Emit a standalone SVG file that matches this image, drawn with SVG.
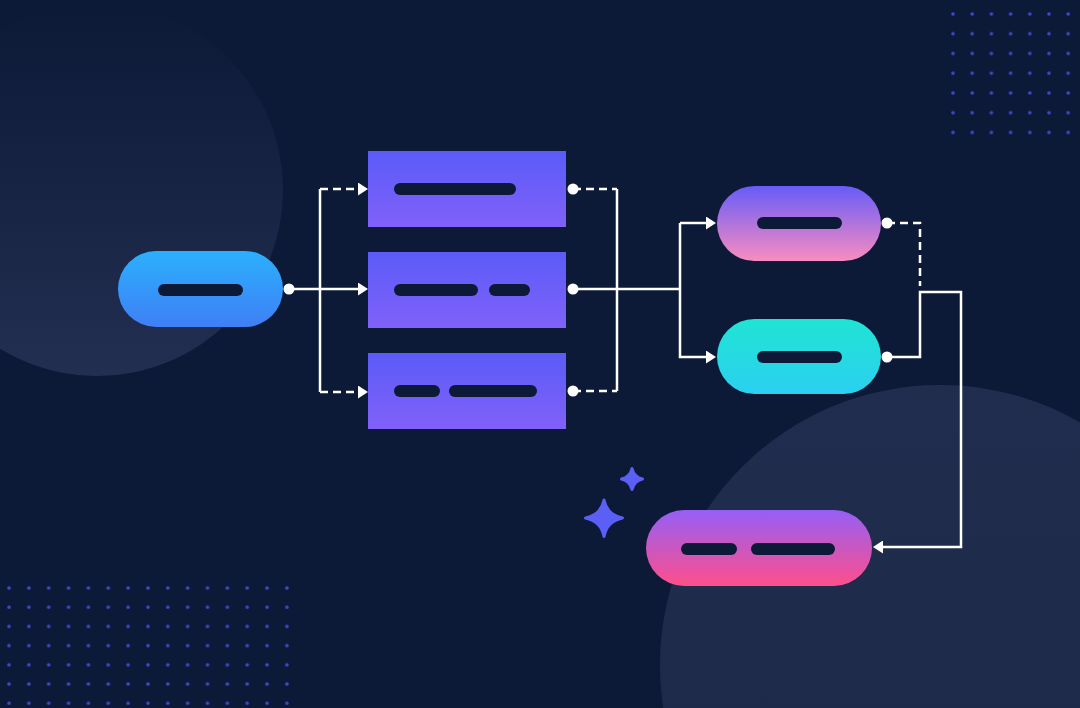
<svg xmlns="http://www.w3.org/2000/svg" width="1080" height="708" viewBox="0 0 1080 708">
  <defs>
    <linearGradient id="gCircle" x1="0" y1="0" x2="0" y2="1">
      <stop offset="0" stop-color="#0c1a37"/>
      <stop offset="0.15" stop-color="#0f1c3a"/>
      <stop offset="1" stop-color="#232f51"/>
    </linearGradient>
    <linearGradient id="gCircle2" x1="0" y1="0" x2="0" y2="1">
      <stop offset="0" stop-color="#212d4e"/>
      <stop offset="1" stop-color="#1c2846"/>
    </linearGradient>
    <linearGradient id="gBlue" x1="0" y1="0" x2="0" y2="1">
      <stop offset="0" stop-color="#2bb0fd"/>
      <stop offset="1" stop-color="#3f7ff5"/>
    </linearGradient>
    <linearGradient id="gRect" x1="0" y1="0" x2="0" y2="1">
      <stop offset="0" stop-color="#5b5bf8"/>
      <stop offset="1" stop-color="#8061f9"/>
    </linearGradient>
    <linearGradient id="gPink" x1="0" y1="0" x2="0" y2="1">
      <stop offset="0" stop-color="#665cf8"/>
      <stop offset="1" stop-color="#f98cc0"/>
    </linearGradient>
    <linearGradient id="gTeal" x1="0" y1="0" x2="0" y2="1">
      <stop offset="0" stop-color="#20e4d3"/>
      <stop offset="1" stop-color="#2bd0f0"/>
    </linearGradient>
    <linearGradient id="gMag" x1="0" y1="0" x2="0" y2="1">
      <stop offset="0" stop-color="#955ff6"/>
      <stop offset="1" stop-color="#ff4f8a"/>
    </linearGradient>
    <pattern id="dotsTR" patternUnits="userSpaceOnUse" x="943.4" y="4.1" width="19.2" height="19.75">
      <circle cx="9.6" cy="9.9" r="1.8" fill="#3d49d0"/>
    </pattern>
    <pattern id="dotsBL" patternUnits="userSpaceOnUse" x="-0.9" y="578.4" width="19.85" height="19.2">
      <circle cx="9.9" cy="9.6" r="1.8" fill="#3d49d0"/>
    </pattern>
    <marker id="arrow" viewBox="0 0 10 13" refX="2" refY="6.5" markerWidth="10" markerHeight="13" markerUnits="userSpaceOnUse" orient="auto">
      <path d="M0,0 L10,6.5 L0,13 z" fill="#ffffff"/>
    </marker>
  </defs>
  <style>
    .line{fill:none;stroke:#ffffff;stroke-width:2.5;}
    .dash{stroke-dasharray:8 5;}
    .dot{fill:#ffffff;}
    .bar{fill:#0c1a37;}
    .star{fill:#5b5ff5;stroke:#5b5ff5;stroke-width:3;stroke-linejoin:round;}
  </style>

  <rect width="1080" height="708" fill="#0c1a37"/>
  <circle cx="97" cy="190" r="186" fill="url(#gCircle)"/>
  <circle cx="940" cy="665" r="280" fill="url(#gCircle2)"/>
  <rect x="943" y="4" width="135" height="140" fill="url(#dotsTR)"/>
  <rect x="0" y="578" width="298" height="130" fill="url(#dotsBL)"/>

  <g id="sparkles">
    <path class="star" d="M604,500 Q607,515 622.5,518 Q607,521 604,536.5 Q601,521 585.5,518 Q601,515 604,500 Z"/>
    <path class="star" d="M632,468.5 Q634,477 642.5,479 Q634,481 632,489.5 Q630,481 621.5,479 Q630,477 632,468.5 Z"/>
  </g>

  <g id="connectors">
    <path class="line" d="M289,289 L360,289" marker-end="url(#arrow)"/>
    <path class="line" d="M320,189 L320,392"/>
    <path class="line dash" d="M320,189 L360,189" marker-end="url(#arrow)"/>
    <path class="line dash" d="M320,392 L360,392" marker-end="url(#arrow)"/>
    <path class="line dash" d="M573,189 L617,189"/>
    <path class="line dash" d="M573,391 L617,391"/>
    <path class="line" d="M617,189 L617,391"/>
    <path class="line" d="M573,289 L680,289"/>
    <path class="line" d="M680,223 L680,357 L708,357" marker-end="url(#arrow)"/>
    <path class="line" d="M680,223 L708,223" marker-end="url(#arrow)"/>
    <path class="line dash" d="M887,223 L920,223 L920,286"/>
    <path class="line" d="M887,357 L920,357 L920,292 L961,292 L961,547 L881,547" marker-end="url(#arrow)"/>
    <circle class="dot" cx="289" cy="289" r="5.5"/>
    <circle class="dot" cx="573" cy="189" r="5.5"/>
    <circle class="dot" cx="573" cy="289" r="5.5"/>
    <circle class="dot" cx="573" cy="391" r="5.5"/>
    <circle class="dot" cx="887" cy="223" r="5.5"/>
    <circle class="dot" cx="887" cy="357" r="5.5"/>
  </g>

  <g id="start">
    <rect x="118" y="251" width="165" height="76" rx="38" fill="url(#gBlue)"/>
    <rect class="bar" x="158" y="284" width="85" height="12" rx="6"/>
  </g>

  <g id="task1">
    <rect x="368" y="151" width="198" height="76" fill="url(#gRect)"/>
    <rect class="bar" x="394" y="183" width="122" height="12" rx="6"/>
  </g>
  <g id="task2">
    <rect x="368" y="252" width="198" height="76" fill="url(#gRect)"/>
    <rect class="bar" x="394" y="284" width="84" height="12" rx="6"/>
    <rect class="bar" x="489" y="284" width="41" height="12" rx="6"/>
  </g>
  <g id="task3">
    <rect x="368" y="353" width="198" height="76" fill="url(#gRect)"/>
    <rect class="bar" x="394" y="385" width="46" height="12" rx="6"/>
    <rect class="bar" x="449" y="385" width="88" height="12" rx="6"/>
  </g>

  <g id="branchA">
    <rect x="717" y="186" width="164" height="75" rx="37.5" fill="url(#gPink)"/>
    <rect class="bar" x="757" y="217" width="85" height="12" rx="6"/>
  </g>
  <g id="branchB">
    <rect x="717" y="319" width="164" height="75" rx="37.5" fill="url(#gTeal)"/>
    <rect class="bar" x="757" y="351" width="85" height="12" rx="6"/>
  </g>

  <g id="end">
    <rect x="646" y="510" width="226" height="76" rx="38" fill="url(#gMag)"/>
    <rect class="bar" x="681" y="543" width="56" height="12" rx="6"/>
    <rect class="bar" x="751" y="543" width="84" height="12" rx="6"/>
  </g>
</svg>
